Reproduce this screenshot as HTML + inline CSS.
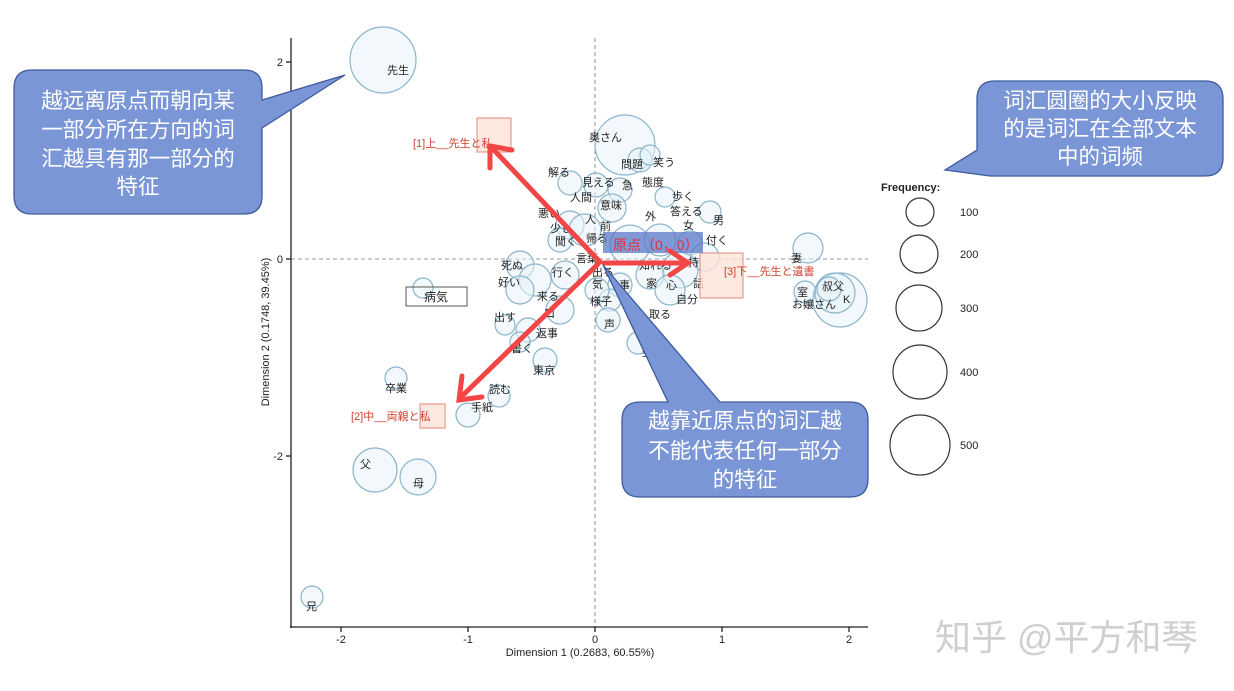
<!DOCTYPE html>
<html><head><meta charset="utf-8"><style>
body{margin:0;background:#fff}
svg text{font-family:"Liberation Sans","Noto Sans CJK JP",sans-serif}
</style></head><body>
<svg width="1234" height="686" viewBox="0 0 1234 686" xmlns="http://www.w3.org/2000/svg">
<rect width="1234" height="686" fill="#fff"/>
<line x1="291" y1="259" x2="868" y2="259" stroke="#777" stroke-dasharray="4,3" stroke-width="0.8"/>
<line x1="595" y1="38" x2="595" y2="627" stroke="#777" stroke-dasharray="4,3" stroke-width="0.8"/>
<g fill="#e8f3f8" fill-opacity="0.55" stroke="#8bb5cc" stroke-width="1.2">
<circle cx="383" cy="60" r="33"/>
<circle cx="625" cy="145" r="30"/><circle cx="640" cy="160" r="12"/><circle cx="650" cy="155" r="10"/>
<circle cx="570" cy="183" r="12"/><circle cx="596" cy="185" r="12"/><circle cx="620" cy="190" r="12"/>
<circle cx="612" cy="208" r="14"/><circle cx="665" cy="197" r="10"/><circle cx="710" cy="212" r="11"/>
<circle cx="570" cy="225" r="14"/><circle cx="585" cy="230" r="16"/><circle cx="560" cy="240" r="12"/>
<circle cx="630" cy="245" r="20"/><circle cx="660" cy="240" r="16"/><circle cx="690" cy="243" r="12"/>
<circle cx="705" cy="257" r="14"/><circle cx="680" cy="270" r="18"/><circle cx="650" cy="275" r="14"/>
<circle cx="620" cy="285" r="12"/><circle cx="670" cy="290" r="15"/><circle cx="610" cy="300" r="11"/>
<circle cx="520" cy="265" r="14"/><circle cx="535" cy="280" r="16"/><circle cx="520" cy="290" r="14"/>
<circle cx="565" cy="275" r="14"/><circle cx="560" cy="310" r="14"/><circle cx="505" cy="325" r="10"/>
<circle cx="528" cy="330" r="12"/><circle cx="520" cy="342" r="10"/><circle cx="545" cy="360" r="12"/>
<circle cx="608" cy="320" r="12"/><circle cx="638" cy="343" r="11"/><circle cx="597" cy="290" r="12"/>
<circle cx="423" cy="288" r="10"/><circle cx="396" cy="378" r="11"/><circle cx="499" cy="396" r="11"/>
<circle cx="468" cy="415" r="12"/><circle cx="375" cy="470" r="22"/><circle cx="418" cy="477" r="18"/>
<circle cx="312" cy="597" r="11"/>
<circle cx="808" cy="248" r="15"/><circle cx="805" cy="292" r="11"/><circle cx="840" cy="300" r="27"/><circle cx="835" cy="293" r="20"/><circle cx="829" cy="289" r="12"/>
</g>
<g stroke="#222" stroke-width="1.3" fill="none">
<line x1="291" y1="38" x2="291" y2="628"/><line x1="290" y1="627" x2="868" y2="627"/>
<line x1="286" y1="62" x2="291" y2="62"/><line x1="286" y1="259" x2="291" y2="259"/><line x1="286" y1="456" x2="291" y2="456"/>
<line x1="341" y1="627" x2="341" y2="632"/><line x1="468" y1="627" x2="468" y2="632"/><line x1="595" y1="627" x2="595" y2="632"/><line x1="722" y1="627" x2="722" y2="632"/><line x1="849" y1="627" x2="849" y2="632"/>
</g>
<g font-size="11" fill="#222">
<text x="283" y="66" text-anchor="end">2</text><text x="283" y="263" text-anchor="end">0</text><text x="283" y="460" text-anchor="end">-2</text>
<text x="341" y="643" text-anchor="middle">-2</text><text x="468" y="643" text-anchor="middle">-1</text><text x="595" y="643" text-anchor="middle">0</text><text x="722" y="643" text-anchor="middle">1</text><text x="849" y="643" text-anchor="middle">2</text>
<text x="580" y="656" text-anchor="middle">Dimension 1  (0.2683,  60.55%)</text>
<text transform="translate(269,332) rotate(-90)" text-anchor="middle">Dimension 2  (0.1748,  39.45%)</text>
</g>
<g font-size="11" fill="#222">
<text x="387" y="74">先生</text><text x="589" y="141">奥さん</text><text x="621" y="168">問題</text><text x="653" y="166">笑う</text>
<text x="548" y="176">解る</text><text x="582" y="186">見える</text><text x="622" y="189">急</text><text x="642" y="186">態度</text>
<text x="570" y="201">人間</text><text x="600" y="209">意味</text><text x="672" y="200">歩く</text><text x="670" y="215">答える</text>
<text x="538" y="217">悪い</text><text x="645" y="220">外</text><text x="713" y="224">男</text><text x="585" y="223">人</text><text x="600" y="230">前</text>
<text x="550" y="232">少し</text><text x="683" y="229">女</text><text x="555" y="245">聞く</text><text x="586" y="242">帰る</text><text x="706" y="244">付く</text>
<text x="576" y="262">言葉</text><text x="501" y="269">死ぬ</text><text x="552" y="276">行く</text><text x="592" y="276">出る</text><text x="639" y="269">知れる</text><text x="688" y="266">持</text>
<text x="498" y="286">好い</text><text x="592" y="288">気</text><text x="619" y="289">事</text><text x="646" y="287">家</text><text x="666" y="289">心</text><text x="693" y="287">話</text>
<text x="537" y="300">来る</text><text x="590" y="305">様子</text><text x="676" y="303">自分</text><text x="544" y="317">口</text><text x="494" y="321">出す</text>
<text x="649" y="318">取る</text><text x="536" y="337">返事</text><text x="604" y="328">声</text><text x="511" y="352">書く</text><text x="642" y="356">坐る</text>
<text x="533" y="374">東京</text><text x="385" y="392">卒業</text><text x="489" y="393">読む</text><text x="471" y="411">手紙</text>
<text x="360" y="468">父</text><text x="413" y="487">母</text><text x="306" y="610">兄</text>
<text x="791" y="262">妻</text><text x="797" y="296">室</text><text x="822" y="290">叔父</text><text x="792" y="308">お嬢さん</text><text x="843" y="303">K</text>
</g>
<rect x="406" y="287" width="61" height="19" fill="none" stroke="#555"/>
<text x="424" y="301" font-size="12" fill="#222">病気</text>
<g fill="#fde3d8" fill-opacity="0.8" stroke="#e08a78">
<rect x="477" y="118" width="34" height="34"/><rect x="420" y="404" width="25" height="24"/><rect x="700" y="253" width="43" height="45"/>
</g>
<g font-size="11" fill="#d0412f">
<text x="413" y="147">[1]上__先生と私</text><text x="351" y="420">[2]中__両親と私</text><text x="724" y="275">[3]下__先生と遺書</text>
</g>
<rect x="603" y="232" width="100" height="21" fill="#5a78c8" fill-opacity="0.75"/>
<text x="613" y="250" font-size="14" fill="#e03040">原点（0，0）</text>
<g stroke="#f24545" stroke-width="5" fill="none" stroke-linecap="round">
<line x1="600" y1="262" x2="492" y2="148"/><polyline points="490,168 490,146 512,150"/>
<line x1="598" y1="264" x2="460" y2="398"/><polyline points="462,376 459,400 482,397"/>
<line x1="604" y1="263" x2="688" y2="263"/><polyline points="670,251 688,263 670,275"/>
</g>
<g fill="#7b96d6" stroke="#3f5a9e" stroke-width="1.3">
<path d="M32,70 H244 Q262,70 262,88 V100 L345,75 L262,128 V196 Q262,214 244,214 H32 Q14,214 14,196 V88 Q14,70 32,70 Z"/>
<path d="M995,81 H1205 Q1223,81 1223,99 V158 Q1223,176 1205,176 H990 L945,170 L977,150 V99 Q977,81 995,81 Z"/>
<path d="M640,402 H668 L603,265 L720,402 H850 Q868,402 868,420 V479 Q868,497 850,497 H640 Q622,497 622,479 V420 Q622,402 640,402 Z"/>
</g>
<g fill="#fff" font-size="21.5" text-anchor="middle">
<text x="138" y="108">越远离原点而朝向某</text><text x="138" y="137">一部分所在方向的词</text><text x="138" y="166">汇越具有那一部分的</text><text x="138" y="194">特征</text>
<text x="1100" y="108">词汇圆圈的大小反映</text><text x="1100" y="136">的是词汇在全部文本</text><text x="1100" y="164">中的词频</text>
<text x="745" y="428">越靠近原点的词汇越</text><text x="745" y="458">不能代表任何一部分</text><text x="745" y="487">的特征</text>
</g>
<text x="881" y="191" font-size="11" font-weight="bold" fill="#222">Frequency:</text>
<g fill="none" stroke="#333" stroke-width="1.2">
<circle cx="920" cy="212" r="14"/><circle cx="919" cy="254" r="19"/><circle cx="919" cy="308" r="23"/><circle cx="920" cy="372" r="27"/><circle cx="920" cy="445" r="30"/>
</g>
<g font-size="11" fill="#222">
<text x="960" y="216">100</text><text x="960" y="258">200</text><text x="960" y="312">300</text><text x="960" y="376">400</text><text x="960" y="449">500</text>
</g>
<text x="935" y="650" font-size="36" fill="#cfcfcf">知乎 @平方和琴</text>
</svg>
</body></html>
